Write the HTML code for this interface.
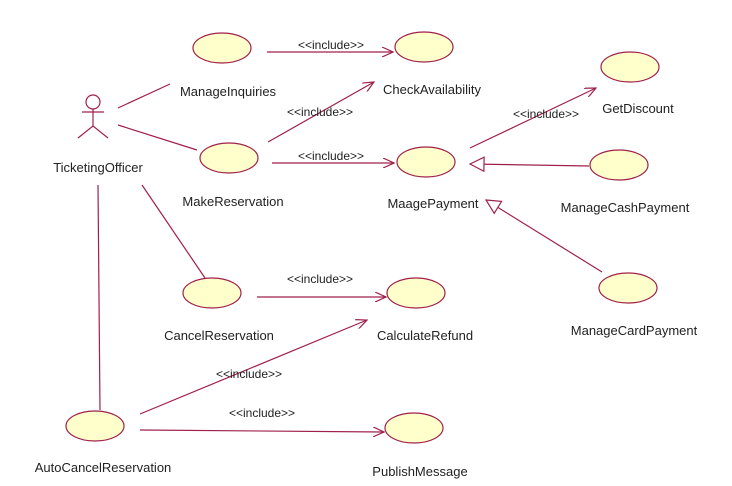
<!DOCTYPE html>
<html><head><style>
html,body{margin:0;padding:0;background:#fff;}
svg{display:block;}
text{font-family:"Liberation Sans",Arial,sans-serif;font-size:13px;fill:#222;}
.s{font-size:12px;}
</style></head><body>
<svg width="732" height="486" viewBox="0 0 732 486" xmlns="http://www.w3.org/2000/svg">
<defs>
<marker id="a" markerWidth="12" markerHeight="10" refX="11" refY="5" orient="auto" markerUnits="userSpaceOnUse">
<path d="M0,0 L11,5 L0,10" fill="none" stroke="#a0204a" stroke-width="1.2"/>
</marker>
<marker id="t" markerWidth="16" markerHeight="16" refX="15" refY="8" orient="auto" markerUnits="userSpaceOnUse">
<path d="M1,1 L15,8 L1,15 Z" fill="#fff" stroke="#a0204a" stroke-width="1.2"/>
</marker>
</defs>
<g stroke="#a0204a" stroke-width="1.2" fill="none">
<!-- actor -->
<circle cx="93" cy="102" r="7"/>
<line x1="93" y1="109" x2="93" y2="126"/>
<line x1="82" y1="112" x2="104" y2="112"/>
<line x1="93" y1="126" x2="78" y2="138"/>
<line x1="93" y1="126" x2="108" y2="138"/>
<!-- associations -->
<line x1="118" y1="108" x2="170" y2="84"/>
<line x1="118" y1="125" x2="197" y2="150"/>
<line x1="142" y1="185" x2="205" y2="278"/>
<line x1="98" y1="185" x2="100" y2="410"/>
<!-- includes -->
<line x1="267" y1="52" x2="393" y2="52" marker-end="url(#a)"/>
<line x1="268" y1="142" x2="374" y2="82" marker-end="url(#a)"/>
<line x1="272" y1="163" x2="394" y2="163" marker-end="url(#a)"/>
<line x1="470" y1="148" x2="596" y2="88" marker-end="url(#a)"/>
<line x1="257" y1="297" x2="386" y2="297" marker-end="url(#a)"/>
<line x1="140" y1="414" x2="367" y2="320" marker-end="url(#a)"/>
<line x1="140" y1="430" x2="384" y2="432" marker-end="url(#a)"/>
<!-- generalizations -->
<line x1="589" y1="166" x2="470" y2="164" marker-end="url(#t)"/>
<line x1="602" y1="272" x2="486" y2="200" marker-end="url(#t)"/>
</g>
<g fill="#ffffcc" stroke="#a0204a" stroke-width="1.2">
<ellipse cx="222" cy="48" rx="29" ry="15"/>
<ellipse cx="424" cy="47" rx="29" ry="15"/>
<ellipse cx="630" cy="67" rx="29" ry="15"/>
<ellipse cx="229" cy="158" rx="29" ry="15"/>
<ellipse cx="426" cy="162" rx="29" ry="15"/>
<ellipse cx="619" cy="165" rx="29" ry="15"/>
<ellipse cx="628" cy="288" rx="29" ry="15"/>
<ellipse cx="212" cy="293" rx="29" ry="15"/>
<ellipse cx="416" cy="293" rx="29" ry="15"/>
<ellipse cx="95" cy="426" rx="29" ry="15"/>
<ellipse cx="414" cy="428" rx="29" ry="15"/>
</g>
<g text-anchor="middle">
<text x="98" y="172">TicketingOfficer</text>
<text x="228" y="96">ManageInquiries</text>
<text x="432" y="94">CheckAvailability</text>
<text x="638" y="113">GetDiscount</text>
<text x="233" y="206">MakeReservation</text>
<text x="433" y="208">MaagePayment</text>
<text x="625" y="212">ManageCashPayment</text>
<text x="634" y="335">ManageCardPayment</text>
<text x="219" y="340">CancelReservation</text>
<text x="425" y="340">CalculateRefund</text>
<text x="103" y="472">AutoCancelReservation</text>
<text x="420" y="476">PublishMessage</text>
<text class="s" x="331" y="49">&lt;&lt;include&gt;&gt;</text>
<text class="s" x="320" y="116">&lt;&lt;include&gt;&gt;</text>
<text class="s" x="331" y="160">&lt;&lt;include&gt;&gt;</text>
<text class="s" x="546" y="118">&lt;&lt;include&gt;&gt;</text>
<text class="s" x="320" y="283">&lt;&lt;include&gt;&gt;</text>
<text class="s" x="249" y="378">&lt;&lt;include&gt;&gt;</text>
<text class="s" x="262" y="417">&lt;&lt;include&gt;&gt;</text>
</g>
</svg>
</body></html>
